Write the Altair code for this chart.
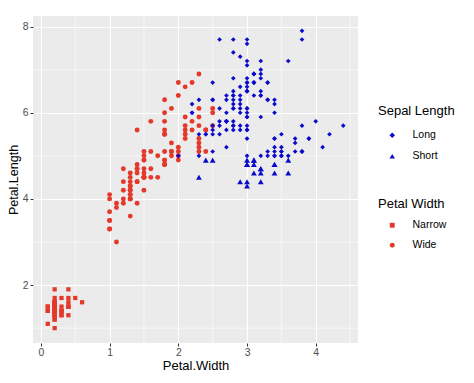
import altair as alt
import pandas as pd

sepal_length = [5.1,4.9,4.7,4.6,5.0,5.4,4.6,5.0,4.4,4.9,
                5.4,4.8,4.8,4.3,5.8,5.7,5.4,5.1,5.7,5.1,
                5.4,5.1,4.6,5.1,4.8,5.0,5.0,5.2,5.2,4.7,
                4.8,5.4,5.2,5.5,4.9,5.0,5.5,4.9,4.4,5.1,
                5.0,4.5,4.4,5.0,5.1,4.8,5.1,4.6,5.3,5.0,
                7.0,6.4,6.9,5.5,6.5,5.7,6.3,4.9,6.6,5.2,
                5.0,5.9,6.0,6.1,5.6,6.7,5.6,5.8,6.2,5.6,
                5.9,6.1,6.3,6.1,6.4,6.6,6.8,6.7,6.0,5.7,
                5.5,5.5,5.8,6.0,5.4,6.0,6.7,6.3,5.6,5.5,
                5.5,6.1,5.8,5.0,5.6,5.7,5.7,6.2,5.1,5.7,
                6.3,5.8,7.1,6.3,6.5,7.6,4.9,7.3,6.7,7.2,
                6.5,6.4,6.8,5.7,5.8,6.4,6.5,7.7,7.7,6.0,
                6.9,5.6,7.7,6.3,6.7,7.2,6.2,6.1,6.4,7.2,
                7.4,7.9,6.4,6.3,6.1,7.7,6.3,6.4,6.0,6.9,
                6.7,6.9,5.8,6.8,6.7,6.7,6.3,6.5,6.2,5.9]
sepal_width = [3.5,3.0,3.2,3.1,3.6,3.9,3.4,3.4,2.9,3.1,
               3.7,3.4,3.0,3.0,4.0,4.4,3.9,3.5,3.8,3.8,
               3.4,3.7,3.6,3.3,3.4,3.0,3.4,3.5,3.4,3.2,
               3.1,3.4,4.1,4.2,3.1,3.2,3.5,3.6,3.0,3.4,
               3.5,2.3,3.2,3.5,3.8,3.0,3.8,3.2,3.7,3.3,
               3.2,3.2,3.1,2.3,2.8,2.8,3.3,2.4,2.9,2.7,
               2.0,3.0,2.2,2.9,2.9,3.1,3.0,2.7,2.2,2.5,
               3.2,2.8,2.5,2.8,2.9,3.0,2.8,3.0,2.9,2.6,
               2.4,2.4,2.7,2.7,3.0,3.4,3.1,2.3,3.0,2.5,
               2.6,3.0,2.6,2.3,2.7,3.0,2.9,2.9,2.5,2.8,
               3.3,2.7,3.0,2.9,3.0,3.0,2.5,2.9,2.5,3.6,
               3.2,2.7,3.0,2.5,2.8,3.2,3.0,3.8,2.6,2.2,
               3.2,2.8,2.8,2.7,3.3,3.2,2.8,3.0,2.8,3.0,
               2.8,3.8,2.8,2.8,2.6,3.0,3.4,3.1,3.0,3.1,
               3.1,3.1,2.7,3.2,3.3,3.0,2.5,3.0,3.4,3.0]
petal_length = [1.4,1.4,1.3,1.5,1.4,1.7,1.4,1.5,1.4,1.5,
                1.5,1.6,1.4,1.1,1.2,1.5,1.3,1.4,1.7,1.5,
                1.7,1.5,1.0,1.7,1.9,1.6,1.6,1.5,1.4,1.6,
                1.6,1.5,1.5,1.4,1.5,1.2,1.3,1.4,1.3,1.5,
                1.3,1.3,1.3,1.6,1.9,1.4,1.6,1.4,1.5,1.4,
                4.7,4.5,4.9,4.0,4.6,4.5,4.7,3.3,4.6,3.9,
                3.5,4.2,4.0,4.7,3.6,4.4,4.5,4.1,4.5,3.9,
                4.8,4.0,4.9,4.7,4.3,4.4,4.8,5.0,4.5,3.5,
                3.8,3.7,3.9,5.1,4.5,4.5,4.7,4.4,4.1,4.0,
                4.4,4.6,4.0,3.3,4.2,4.2,4.2,4.3,3.0,4.1,
                6.0,5.1,5.9,5.6,5.8,6.6,4.5,6.3,5.8,6.1,
                5.1,5.3,5.5,5.0,5.1,5.3,5.5,6.7,6.9,5.0,
                5.7,4.9,6.7,4.9,5.7,6.0,4.8,4.9,5.6,5.8,
                6.1,6.4,5.6,5.1,5.6,6.1,5.6,5.5,4.8,5.4,
                5.6,5.1,5.1,5.9,5.7,5.2,5.0,5.2,5.4,5.1]
petal_width = [0.2,0.2,0.2,0.2,0.2,0.4,0.3,0.2,0.2,0.1,
               0.2,0.2,0.1,0.1,0.2,0.4,0.4,0.3,0.3,0.3,
               0.2,0.4,0.2,0.5,0.2,0.2,0.4,0.2,0.2,0.2,
               0.2,0.4,0.1,0.2,0.2,0.2,0.2,0.1,0.2,0.2,
               0.3,0.3,0.2,0.6,0.4,0.3,0.2,0.2,0.2,0.2,
               1.4,1.5,1.5,1.3,1.5,1.3,1.6,1.0,1.3,1.4,
               1.0,1.5,1.0,1.4,1.3,1.4,1.5,1.0,1.5,1.1,
               1.8,1.3,1.5,1.2,1.3,1.4,1.4,1.7,1.5,1.0,
               1.1,1.0,1.2,1.6,1.5,1.6,1.5,1.3,1.3,1.3,
               1.2,1.4,1.2,1.0,1.3,1.2,1.3,1.3,1.1,1.3,
               2.5,1.9,2.1,1.8,2.2,2.1,1.7,1.8,1.8,2.5,
               2.0,1.9,2.1,2.0,2.4,2.3,1.8,2.2,2.3,1.5,
               2.3,2.0,2.0,1.8,2.1,1.8,1.8,1.8,2.1,1.6,
               1.9,2.0,2.2,1.5,1.4,2.3,2.4,1.8,1.8,2.1,
               2.4,2.3,1.9,2.3,2.5,2.3,1.9,2.0,2.3,1.8]

sepal_length_cat = ["Short" if v < 5 else "Long" for v in sepal_length]
petal_width_cat = ["Narrow" if v < 1 else "Wide" for v in petal_width]

x_ticks = [0, 1, 2, 3, 4]
y_ticks = [2, 4, 6, 8]
x_minor = [0.5, 1.5, 2.5, 3.5, 4.5]
y_minor = [1, 3, 5, 7]

RED = "#E3382A"
BLUE = "#0A0ACC"
FONT = "Liberation Sans"

df = pd.DataFrame({
    "SL": sepal_length, "SW": sepal_width,
    "PL": petal_length, "PW": petal_width,
    "SLc": sepal_length_cat, "PWc": petal_width_cat,
})

xscale = alt.Scale(domain=[-0.115, 4.615], nice=False, zero=False)
yscale = alt.Scale(domain=[0.655, 8.245], nice=False, zero=False)
xaxis = alt.Axis(values=x_ticks, title="Petal.Width", labelPadding=1.5, titlePadding=2)
yaxis = alt.Axis(values=y_ticks, title="Petal.Length", labelPadding=2, titleFontSize=12.5,
                 titleX=-19.5, titleY=163.5, titleBaseline="middle", titleAlign="center", titleAngle=270)

minor_x = alt.Chart(pd.DataFrame({"v": x_minor})).mark_rule(color="white", strokeWidth=0.55).encode(
    x=alt.X("v:Q", scale=xscale, axis=xaxis))
minor_y = alt.Chart(pd.DataFrame({"v": y_minor})).mark_rule(color="white", strokeWidth=0.55).encode(
    y=alt.Y("v:Q", scale=yscale, axis=yaxis))

red = alt.Chart(df).mark_point(filled=True, color=RED, opacity=1, strokeWidth=0).encode(
    x=alt.X("PW:Q", scale=xscale, axis=xaxis),
    y=alt.Y("PL:Q", scale=yscale, axis=yaxis),
    shape=alt.Shape("PWc:N", scale=alt.Scale(domain=["Narrow", "Wide"], range=["square", "circle"]),
                    legend=alt.Legend(title="Petal Width", orient="none", legendX=345, legendY=182,
                                      symbolFillColor=RED, symbolStrokeColor=RED, symbolStrokeWidth=0,
                                      symbolOpacity=1, symbolSize=24, symbolOffset=9, labelOffset=15,
                                      titlePadding=9, rowPadding=9, padding=0)),
    size=alt.condition(alt.datum.PWc == "Narrow", alt.value(18), alt.value(24)),
)

blue = alt.Chart(df).mark_point(filled=True, color=BLUE, opacity=1, strokeWidth=0).encode(
    x=alt.X("SW:Q", scale=xscale, axis=xaxis),
    y=alt.Y("SL:Q", scale=yscale, axis=yaxis),
    shape=alt.Shape("SLc:N", scale=alt.Scale(domain=["Long", "Short"], range=["diamond", "triangle-up"]),
                    legend=alt.Legend(title="Sepal Length", orient="none", legendX=345, legendY=89,
                                      symbolFillColor=BLUE, symbolStrokeColor=BLUE, symbolStrokeWidth=0,
                                      symbolOpacity=1, symbolSize=30, symbolOffset=9, labelOffset=15,
                                      titlePadding=12, rowPadding=10, padding=0)),
    size=alt.condition(alt.datum.SLc == "Long", alt.value(22), alt.value(34)),
)

chart = alt.layer(minor_x, minor_y, red, blue).resolve_scale(shape="independent").properties(
    width=325, height=327,
    padding={"left": 25, "top": 8, "right": 108, "bottom": 32},
    autosize=alt.AutoSizeParams(type="none"),
    background="white",
).configure_view(fill="#EBEBEB", stroke=None).configure_axis(
    grid=True, gridColor="white", gridWidth=1.1, domain=False,
    tickColor="#333333", tickSize=3, tickWidth=1,
    labelColor="#4D4D4D", labelFontSize=10.4, labelFont=FONT,
    titleFontSize=13, titleFont=FONT, titleColor="black", titleFontWeight="normal",
).configure_legend(
    titleFontSize=13, titleFont=FONT, titleColor="black", titleFontWeight="normal",
    labelFontSize=10.5, labelFont=FONT, labelColor="black",
)

chart.save("out.html", embed_options={"renderer": "svg", "actions": False})
